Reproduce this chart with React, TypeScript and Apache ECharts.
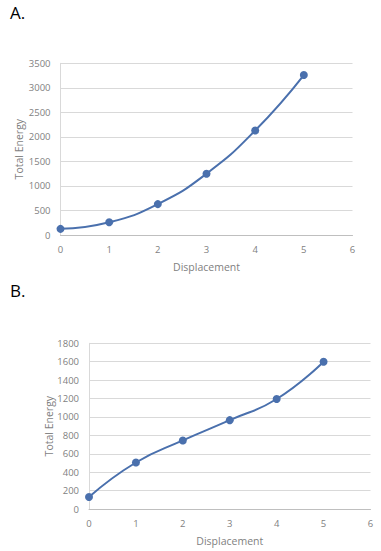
import React, { useEffect, useRef } from "react";
import * as echarts from "echarts";

const displacement = [0, 1, 2, 3, 4, 5];
const energyA = [125, 260, 630, 1250, 2130, 3260];
const energyB = [130, 505, 745, 965, 1195, 1600];
const panelLabels = ["A.", "B."];
const xName = "Displacement";
const yName = "Total Energy";

const LINE = "#4a70ad";
const GRID = "#d9d9d9";
const TEXT = "#7f7f7f";
const FONT = "'Open Sans', sans-serif";

function axisX(gridIndex: number) {
  return {
    type: "value",
    gridIndex,
    min: 0,
    max: 6,
    interval: 1,
    name: xName,
    nameLocation: "middle",
    nameGap: 26,
    nameTextStyle: { color: TEXT, fontSize: 10.5, fontFamily: FONT },
    axisLine: { show: true, lineStyle: { color: "#bfbfbf", width: 1 } },
    axisTick: { show: false },
    axisLabel: { color: TEXT, fontSize: 9.5, fontFamily: FONT, margin: 9 },
    splitLine: { show: false },
  };
}

function axisY(gridIndex: number, max: number, interval: number, gap: number) {
  return {
    type: "value",
    gridIndex,
    min: 0,
    max,
    interval,
    name: yName,
    nameLocation: "middle",
    nameGap: gap,
    nameMoveOverlap: false,
    nameTextStyle: { color: TEXT, fontSize: 10.5, fontFamily: FONT },
    axisLine: { show: true, lineStyle: { color: GRID, width: 1 } },
    axisTick: { show: false },
    axisLabel: {
      color: TEXT,
      fontSize: 9.5,
      fontFamily: FONT,
      margin: 10,
      formatter: (v: number) => String(v),
    },
    splitLine: { show: true, lineStyle: { color: GRID, width: 1 } },
  };
}

export default function App() {
  const ref = useRef<HTMLDivElement>(null);
  useEffect(() => {
    if (!ref.current) return;
    const chart = echarts.init(ref.current, undefined, { renderer: "svg" });
    chart.setOption({
      animation: false,
      backgroundColor: "#ffffff",
      graphic: [
        {
          type: "text",
          left: 10,
          top: 4,
          style: { text: panelLabels[0], fontSize: 17, fill: "#000", fontFamily: FONT },
        },
        {
          type: "text",
          left: 10,
          top: 282,
          style: { text: panelLabels[1], fontSize: 17, fill: "#000", fontFamily: FONT },
        },
      ],
      grid: [
        { left: 60.5, right: 28.5, top: 63.3, height: 171.7 },
        { left: 89, right: 10.5, top: 343.3, height: 165.7 },
      ],
      xAxis: [axisX(0), axisX(1)],
      yAxis: [axisY(0, 3500, 500, 36), axisY(1, 1800, 200, 35)],
      series: [
        {
          type: "line",
          xAxisIndex: 0,
          yAxisIndex: 0,
          data: displacement.map((d, i) => [d, energyA[i]]),
          smooth: true,
          symbol: "circle",
          symbolSize: 8,
          lineStyle: { color: LINE, width: 2 },
          itemStyle: { color: LINE },
        },
        {
          type: "line",
          xAxisIndex: 1,
          yAxisIndex: 1,
          data: displacement.map((d, i) => [d, energyB[i]]),
          smooth: true,
          symbol: "circle",
          symbolSize: 8,
          lineStyle: { color: LINE, width: 2 },
          itemStyle: { color: LINE },
        },
      ],
    });
    return () => chart.dispose();
  }, []);
  return (
    <div
      ref={ref}
      style={{ position: "absolute", left: 0, top: 0, width: 381, height: 551 }}
    />
  );
}
